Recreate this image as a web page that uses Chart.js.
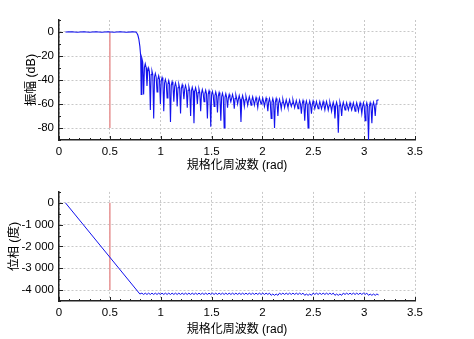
<!DOCTYPE html>
<html>
<head>
<meta charset="utf-8">
<script src="https://cdn.jsdelivr.net/npm/chart.js@4.4.1/dist/chart.umd.min.js"></script>
<style>
  html, body { margin: 0; padding: 0; background: #fff; }
  #wrap { position: relative; width: 474px; height: 339px; overflow: hidden; }
  canvas { position: absolute; left: 0; }
</style>
</head>
<body>
<div id="wrap">
  <canvas id="magChart" width="474" height="180" style="top:0"></canvas>
  <canvas id="phaseChart" width="474" height="159" style="top:180px"></canvas>
</div>
<script>
// tick labels
const freqTicks = [0, 0.5, 1, 1.5, 2, 2.5, 3, 3.5];
const dbTicks = [-80, -60, -40, -20, 0];
const degTicks = [-4000, -3000, -2000, -1000, 0];

// passband + transition (magnitude)
const passFreq = [0.063, 0.12, 0.18, 0.24, 0.30, 0.36, 0.42, 0.48, 0.54, 0.60, 0.66, 0.72,
  0.755, 0.765, 0.775, 0.785, 0.795, 0.803, 0.808];
const passDb = [0, 0.15, -0.15, 0.15, -0.15, 0.15, -0.15, 0.15, -0.15, 0.15, -0.15, 0.1,
  0, -0.8, -2.5, -6, -12, -20, -52];

// stopband magnitude: one row per sidelobe (peak, shoulder, null, shoulder)
const magStopFreq = [
  0.815, 0.823, 0.832, 0.840,  0.848, 0.856, 0.865, 0.873,  0.881, 0.889, 0.898, 0.906,
  0.914, 0.922, 0.931, 0.939,  0.947, 0.955, 0.964, 0.972,  0.980, 0.988, 0.997, 1.005,
  1.013, 1.021, 1.030, 1.038,  1.046, 1.054, 1.063, 1.071,  1.079, 1.087, 1.096, 1.104,
  1.112, 1.120, 1.129, 1.137,  1.145, 1.153, 1.162, 1.170,  1.178, 1.186, 1.195, 1.203,
  1.211, 1.219, 1.228, 1.236,  1.244, 1.252, 1.261, 1.269,  1.277, 1.285, 1.294, 1.302,
  1.310, 1.318, 1.327, 1.335,  1.343, 1.351, 1.360, 1.368,  1.376, 1.384, 1.393, 1.401,
  1.409, 1.417, 1.426, 1.434,  1.442, 1.450, 1.459, 1.467,  1.475, 1.483, 1.492, 1.500,
  1.508, 1.516, 1.525, 1.533,  1.541, 1.549, 1.558, 1.566,  1.574, 1.582, 1.591, 1.599,
  1.607, 1.615, 1.624, 1.632,  1.640, 1.648, 1.657, 1.665,  1.673, 1.681, 1.690, 1.698,
  1.706, 1.714, 1.723, 1.731,  1.739, 1.747, 1.756, 1.764,  1.772, 1.780, 1.789, 1.797,
  1.805, 1.813, 1.822, 1.830,  1.838, 1.846, 1.855, 1.863,  1.871, 1.879, 1.888, 1.896,
  1.904, 1.912, 1.921, 1.929,  1.937, 1.945, 1.954, 1.962,  1.970, 1.978, 1.987, 1.995,
  2.003, 2.011, 2.020, 2.028,  2.036, 2.044, 2.053, 2.061,  2.069, 2.077, 2.086, 2.094,
  2.102, 2.110, 2.119, 2.127,  2.135, 2.143, 2.152, 2.160,  2.168, 2.176, 2.185, 2.193,
  2.201, 2.209, 2.218, 2.226,  2.234, 2.242, 2.251, 2.259,  2.267, 2.275, 2.284, 2.292,
  2.300, 2.308, 2.317, 2.325,  2.333, 2.341, 2.350, 2.358,  2.366, 2.374, 2.383, 2.391,
  2.399, 2.407, 2.416, 2.424,  2.432, 2.440, 2.449, 2.457,  2.465, 2.473, 2.482, 2.490,
  2.498, 2.506, 2.515, 2.523,  2.531, 2.539, 2.548, 2.556,  2.564, 2.572, 2.581, 2.589,
  2.597, 2.605, 2.614, 2.622,  2.630, 2.638, 2.647, 2.655,  2.663, 2.671, 2.680, 2.688,
  2.696, 2.704, 2.713, 2.721,  2.729, 2.737, 2.746, 2.754,  2.762, 2.770, 2.779, 2.787,
  2.795, 2.803, 2.812, 2.820,  2.828, 2.836, 2.845, 2.853,  2.861, 2.869, 2.878, 2.886,
  2.894, 2.902, 2.911, 2.919,  2.927, 2.935, 2.944, 2.952,  2.960, 2.968, 2.977, 2.985,
  2.993, 3.001, 3.010, 3.018,  3.026, 3.034, 3.043, 3.051,  3.059, 3.067, 3.076, 3.084,
  3.092, 3.100, 3.109, 3.117,  3.125, 3.142
];
const magStopDb = [
  -22, -25, -52, -29.5,      -26.5, -29.5, -45, -33,    -30, -33, -65, -35.5,
  -32.5, -35.5, -72, -37.5,  -34.5, -37.5, -50, -39.5,  -36.5, -39.5, -60, -41,
  -38, -41, -66, -42.5,      -39.5, -42.5, -55, -43.5,  -40.5, -43.5, -75, -44.5,
  -41.5, -44.5, -58, -45.5,  -42.5, -45.5, -62, -46.5,  -43.5, -46.5, -68, -47,
  -44, -47, -56, -47.5,      -44.5, -47.5, -63, -48.5,  -45.5, -48.5, -70, -49,
  -46, -49, -76, -49.5,      -46.5, -49.5, -60, -50.5,  -47.5, -50.5, -66, -51,
  -48, -51, -58, -51.5,      -48.5, -51.5, -72, -52,    -49, -52, -79, -52.5,
  -49.5, -52.5, -62, -53,    -50, -53, -67, -53.5,      -50.5, -53.5, -74, -54,
  -51, -54, -80, -54.5,      -51.5, -54.5, -63, -55,    -52, -55, -58, -55,
  -52, -55, -64, -55.5,      -52.5, -55.5, -60, -56,    -53, -56, -75, -56,
  -53, -56, -62, -56.5,      -53.5, -56.5, -61, -57,    -54, -57, -61, -57,
  -54, -57, -61, -57.5,      -54.5, -57.5, -63, -57.5,  -54.5, -57.5, -60, -58,
  -55, -58, -62, -58,        -55, -58, -66, -58.5,      -55.5, -58.5, -72, -58.5,
  -55.5, -58.5, -80, -58.5,  -55.5, -58.5, -70, -59,    -56, -59, -64, -59,
  -56, -59, -63, -59.5,      -56.5, -59.5, -63, -59.5,  -56.5, -59.5, -62, -59.5,
  -56.5, -59.5, -63, -60,    -57, -60, -64, -60,        -57, -60, -68, -60,
  -57, -60, -74, -60.5,      -57.5, -60.5, -80, -60.5,  -57.5, -60.5, -68, -60.5,
  -57.5, -60.5, -64, -61,    -58, -61, -64, -61,        -58, -61, -64, -61,
  -58, -61, -65, -61,        -58, -61, -65, -61.5,      -58.5, -61.5, -66, -61.5,
  -58.5, -61.5, -72, -61.5,  -58.5, -61.5, -84, -61.5,  -58.5, -61.5, -70, -61.5,
  -58.5, -61.5, -65, -62,    -59, -62, -65, -62,        -59, -62, -65, -62,
  -59, -62, -66, -62,        -59, -62, -66, -62,        -59, -62, -68, -62,
  -59, -62, -74, -62,        -59, -62, -90, -62,        -59, -62, -76, -61.5,
  -58.5, -61.5, -70, -60,    -57, -56.5
];

// stopband phase (peak / null grid)
const phaseStopFreq = [
  0.815, 0.832, 0.848, 0.865, 0.881, 0.898, 0.914, 0.931, 0.947, 0.964,
  0.980, 0.997, 1.013, 1.030, 1.046, 1.063, 1.079, 1.096, 1.112, 1.129,
  1.145, 1.162, 1.178, 1.195, 1.211, 1.228, 1.244, 1.261, 1.277, 1.294,
  1.310, 1.327, 1.343, 1.360, 1.376, 1.393, 1.409, 1.426, 1.442, 1.459,
  1.475, 1.492, 1.508, 1.525, 1.541, 1.558, 1.574, 1.591, 1.607, 1.624,
  1.640, 1.657, 1.673, 1.690, 1.706, 1.723, 1.739, 1.756, 1.772, 1.789,
  1.805, 1.822, 1.838, 1.855, 1.871, 1.888, 1.904, 1.921, 1.937, 1.954,
  1.970, 1.987, 2.003, 2.020, 2.036, 2.053, 2.069, 2.086, 2.102, 2.119,
  2.135, 2.152, 2.168, 2.185, 2.201, 2.218, 2.234, 2.251, 2.267, 2.284,
  2.300, 2.317, 2.333, 2.350, 2.366, 2.383, 2.399, 2.416, 2.432, 2.449,
  2.465, 2.482, 2.498, 2.515, 2.531, 2.548, 2.564, 2.581, 2.597, 2.614,
  2.630, 2.647, 2.663, 2.680, 2.696, 2.713, 2.729, 2.746, 2.762, 2.779,
  2.795, 2.812, 2.828, 2.845, 2.861, 2.878, 2.894, 2.911, 2.927, 2.944,
  2.960, 2.977, 2.993, 3.010, 3.026, 3.043, 3.059, 3.076, 3.092, 3.109,
  3.125, 3.142
];
const phaseStopDeg = [
  -4140, -4200, -4140, -4200, -4140, -4200, -4140, -4200, -4140, -4200,
  -4140, -4200, -4140, -4200, -4140, -4200, -4140, -4200, -4140, -4200,
  -4140, -4200, -4140, -4200, -4140, -4200, -4140, -4200, -4140, -4200,
  -4140, -4200, -4140, -4200, -4140, -4200, -4140, -4200, -4140, -4200,
  -4140, -4200, -4140, -4200, -4140, -4200, -4140, -4200, -4140, -4200,
  -4140, -4200, -4140, -4200, -4140, -4200, -4140, -4200, -4140, -4200,
  -4140, -4200, -4140, -4200, -4140, -4200, -4140, -4200, -4140, -4200,
  -4140, -4200, -4140, -4200, -4140, -4200, -4140, -4240, -4180, -4240,
  -4180, -4240, -4140, -4200, -4140, -4200, -4140, -4200, -4140, -4200,
  -4140, -4200, -4140, -4200, -4140, -4200, -4140, -4240, -4180, -4240,
  -4180, -4240, -4140, -4200, -4140, -4200, -4140, -4200, -4140, -4200,
  -4140, -4200, -4140, -4200, -4140, -4240, -4180, -4240, -4180, -4240,
  -4140, -4200, -4140, -4200, -4140, -4200, -4140, -4200, -4140, -4200,
  -4140, -4200, -4140, -4200, -4140, -4240, -4180, -4240, -4180, -4240,
  -4180, -4220
];

// passband phase (linear part)
const slopeFreq = [0.063, 0.795];
const slopeDeg = [0, -4180];

// red marker at 0.5 rad
const markerFreq = [0.5, 0.5];
const markerDb = [0, -80];
const markerDeg = [0, -4000];

const toPoints = (xs, ys) => xs.map((x, i) => ({ x: x, y: ys[i] }));

Chart.defaults.font.family = "'Liberation Sans', 'Noto Sans CJK JP', Arial, sans-serif";
Chart.defaults.font.size = 11.5;
Chart.defaults.color = '#000';

// small inward tick marks on the left and bottom axes
const innerTicks = {
  id: 'innerTicks',
  afterDraw(chart, args, opts) {
    const { ctx, scales: { x, y } } = chart;
    ctx.save();
    ctx.strokeStyle = '#222';
    ctx.lineWidth = 1;
    ctx.beginPath();
    for (let i = 0; i <= 35; i++) {
      const px = Math.round(x.getPixelForValue(i / 10)) + 0.5;
      const len = i % 5 === 0 ? 4 : 2;
      ctx.moveTo(px, y.bottom);
      ctx.lineTo(px, y.bottom - len);
    }
    const n = Math.round((y.max - y.min) / opts.step);
    for (let j = 0; j <= n; j++) {
      const v = y.min + j * opts.step;
      const py = Math.round(y.getPixelForValue(v)) + 0.5;
      const len = opts.major.includes(v) ? 4 : 2;
      ctx.moveTo(x.left, py);
      ctx.lineTo(x.left + len, py);
    }
    ctx.stroke();
    ctx.restore();
  }
};

function fmtThousands(v) {
  const s = Math.abs(v).toString().replace(/\B(?=(\d{3})+(?!\d))/g, ' ');
  return (v < 0 ? '-' : '') + s;
}

function makeChart(id, cfg) {
  const gridStyle = { color: '#c8c8c8', drawTicks: false, lineWidth: 1 };
  const borderStyle = { display: true, color: '#222', width: 1.5, dash: [2, 2] };
  return new Chart(document.getElementById(id), {
    type: 'line',
    data: {
      datasets: [
        {
          data: cfg.line,
          borderColor: '#1212ee',
          borderWidth: cfg.lineWidth,
          pointRadius: 0,
          tension: 0,
          fill: false
        },
        {
          data: cfg.marker,
          borderColor: '#e99a9a',
          borderWidth: 1.6,
          pointRadius: 0,
          fill: false
        }
      ]
    },
    options: {
      responsive: false,
      animation: false,
      events: [],
      layout: { padding: { left: 0, right: 59, top: cfg.top, bottom: 0 } },
      plugins: {
        legend: { display: false },
        tooltip: { enabled: false },
        innerTicks: { step: cfg.minorStep, major: cfg.yTicks }
      },
      scales: {
        x: {
          type: 'linear',
          min: 0,
          max: 3.5,
          grid: gridStyle,
          border: borderStyle,
          afterBuildTicks: s => { s.ticks = freqTicks.map(v => ({ value: v })); },
          afterFit: s => { s.height = cfg.xHeight; },
          ticks: { padding: 5, maxRotation: 0, callback: v => String(v) },
          title: { display: true, text: '規格化周波数 (rad)', font: { size: 12 },
            padding: { top: 0, bottom: cfg.xTitlePad } }
        },
        y: {
          type: 'linear',
          min: cfg.yMin,
          max: cfg.yMax,
          grid: gridStyle,
          border: borderStyle,
          afterBuildTicks: s => { s.ticks = cfg.yTicks.map(v => ({ value: v })); },
          afterFit: s => { s.width = 59; },
          ticks: { padding: 5, callback: cfg.yFormat },
          title: { display: true, text: cfg.yTitle, font: { size: 12.5 },
            padding: { top: cfg.yTitlePad, bottom: 0 } }
        }
      }
    },
    plugins: [innerTicks]
  });
}

makeChart('magChart', {
  line: toPoints(passFreq.concat(magStopFreq), passDb.concat(magStopDb)),
  marker: toPoints(markerFreq, markerDb),
  lineWidth: 1.1,
  top: 20,
  xHeight: 40,
  xTitlePad: 7,
  yMin: -90,
  yMax: 10,
  yTicks: dbTicks,
  minorStep: 10,
  yTitle: '振幅 (dB)',
  yTitlePad: 24,
  yFormat: v => String(v)
});

makeChart('phaseChart', {
  line: toPoints(slopeFreq.concat(phaseStopFreq), slopeDeg.concat(phaseStopDeg)),
  marker: toPoints(markerFreq, markerDeg),
  lineWidth: 1,
  top: 10,
  xHeight: 38,
  xTitlePad: 2,
  yMin: -4500,
  yMax: 500,
  yTicks: degTicks,
  minorStep: 500,
  yTitle: '位相 (度)',
  yTitlePad: 7,
  yFormat: fmtThousands
});
</script>
</body>
</html>
